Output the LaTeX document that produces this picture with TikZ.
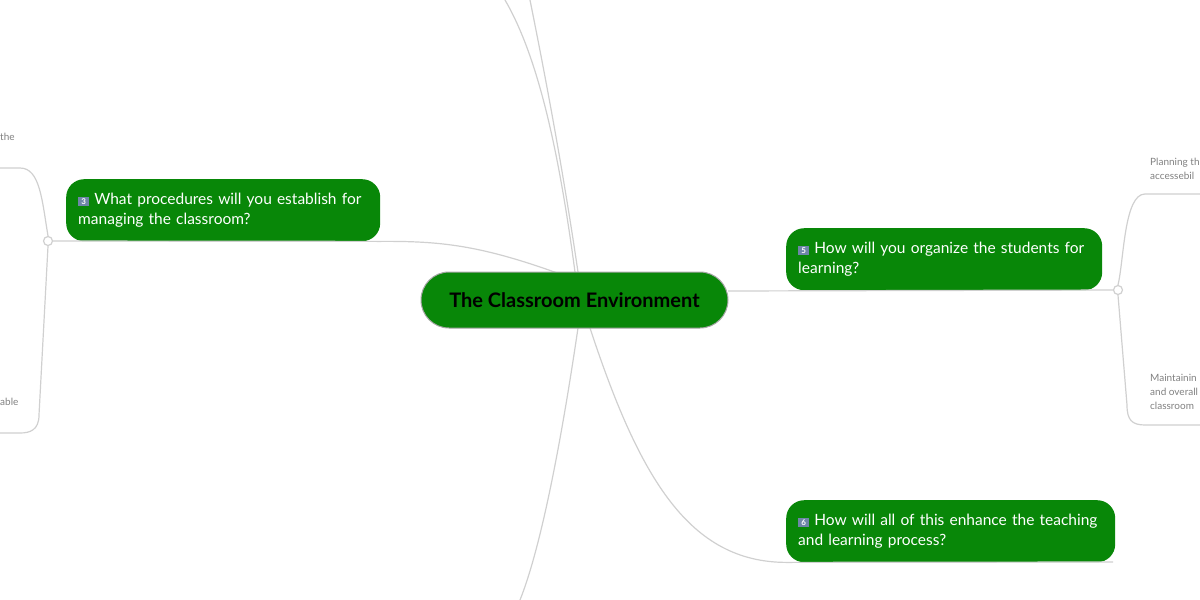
\documentclass[tikz,border=0pt]{standalone}
\usepackage{fontspec}
\setmainfont{Lato}
\definecolor{gr}{HTML}{088708}
\definecolor{ln}{HTML}{D0D0D0}
\definecolor{kc}{HTML}{6E86A8}
\newcommand{\kcap}[1]{{\setlength{\fboxsep}{1.5pt}\colorbox{kc}{\makebox[8pt]{\fontsize{8}{8}\selectfont\bfseries #1}}}}
\begin{document}
\begin{tikzpicture}[x=1pt,y=-1pt,
 conn/.style={draw=ln,line width=1.2pt},
 q/.style={fill=gr,rounded corners=18pt,text=white,align=left,font=\fontsize{15.5}{20}\selectfont,inner xsep=12pt,minimum height=62pt,anchor=north west},
 small/.style={text=gray,font=\fontsize{10}{14}\selectfont,align=left,anchor=north west,inner sep=0pt},
 dot/.style={circle,draw=ln,fill=white,line width=1.2pt,minimum size=9pt,inner sep=0pt}]
\useasboundingbox (0,0) rectangle (1200,600);
\clip (0,0) rectangle (1200,600);
\coordinate (t1) at (505,0); \coordinate (t2) at (530,0); \coordinate (b1) at (520,600);
\draw[conn] (578,272) .. controls (560,150) and (540,50) .. (t2);
\draw[conn] (575,272) .. controls (560,160) and (540,60) .. (t1);
\draw[conn] (578,328) .. controls (560,450) and (540,550) .. (b1);
\node[q,text width=290pt] (n3) at (66,179) {\kcap{3} What procedures will you establish for\\managing the classroom?};
\node[q,text width=292pt] (n5) at (786,228) {\kcap{5} How will you organize the students for\\learning?};
\node[q,text width=305pt] (n6) at (786,500) {\kcap{6} How will all of this enhance the teaching\\and learning process?};
\node[dot] (d3) at (48,241) {};
\node[dot] (d5) at (1118,290) {};
\coordinate (e6) at (1113,562);
\draw[conn] (560,274) .. controls (480,245) and (440,241) .. (n3.south east) -- (d3);
\draw[conn] (728,291) -- (d5);
\draw[conn] (590,328) .. controls (640,480) and (690,562) .. (n6.south west) -- (e6);
\node[fill=gr,draw=gray!70,line width=1pt,rounded corners=28pt,minimum width=307pt,minimum height=56pt,font=\fontsize{20}{24}\selectfont\bfseries] (c) at (574.5,300) {The Classroom Environment};
\coordinate (l1) at (0,168); \coordinate (l2) at (0,433);
\draw[conn] (d3.north) .. controls (42,200) and (40,168) .. (20,168) -- (l1);
\draw[conn] (d3.south) -- (39,415) .. controls (39,430) and (30,433) .. (20,433) -- (l2);
\node[small] (tl1) at (0,133) {the};
\node[small] (tl2) at (0,398) {able};
\coordinate (r1) at (1200,194); \coordinate (r2) at (1200,425);
\draw[conn] (d5.north) .. controls (1124,260) and (1124,194) .. (1145,194) -- (r1);
\draw[conn] (d5.south) -- (1127,405) .. controls (1127,420) and (1132,425) .. (1145,425) -- (r2);
\node[small] (tr1) at (1150,158) {Planning th\\accessebil};
\node[small] (tr2) at (1150,374) {Maintainin\\and overall\\classroom};
\end{tikzpicture}
\end{document}
